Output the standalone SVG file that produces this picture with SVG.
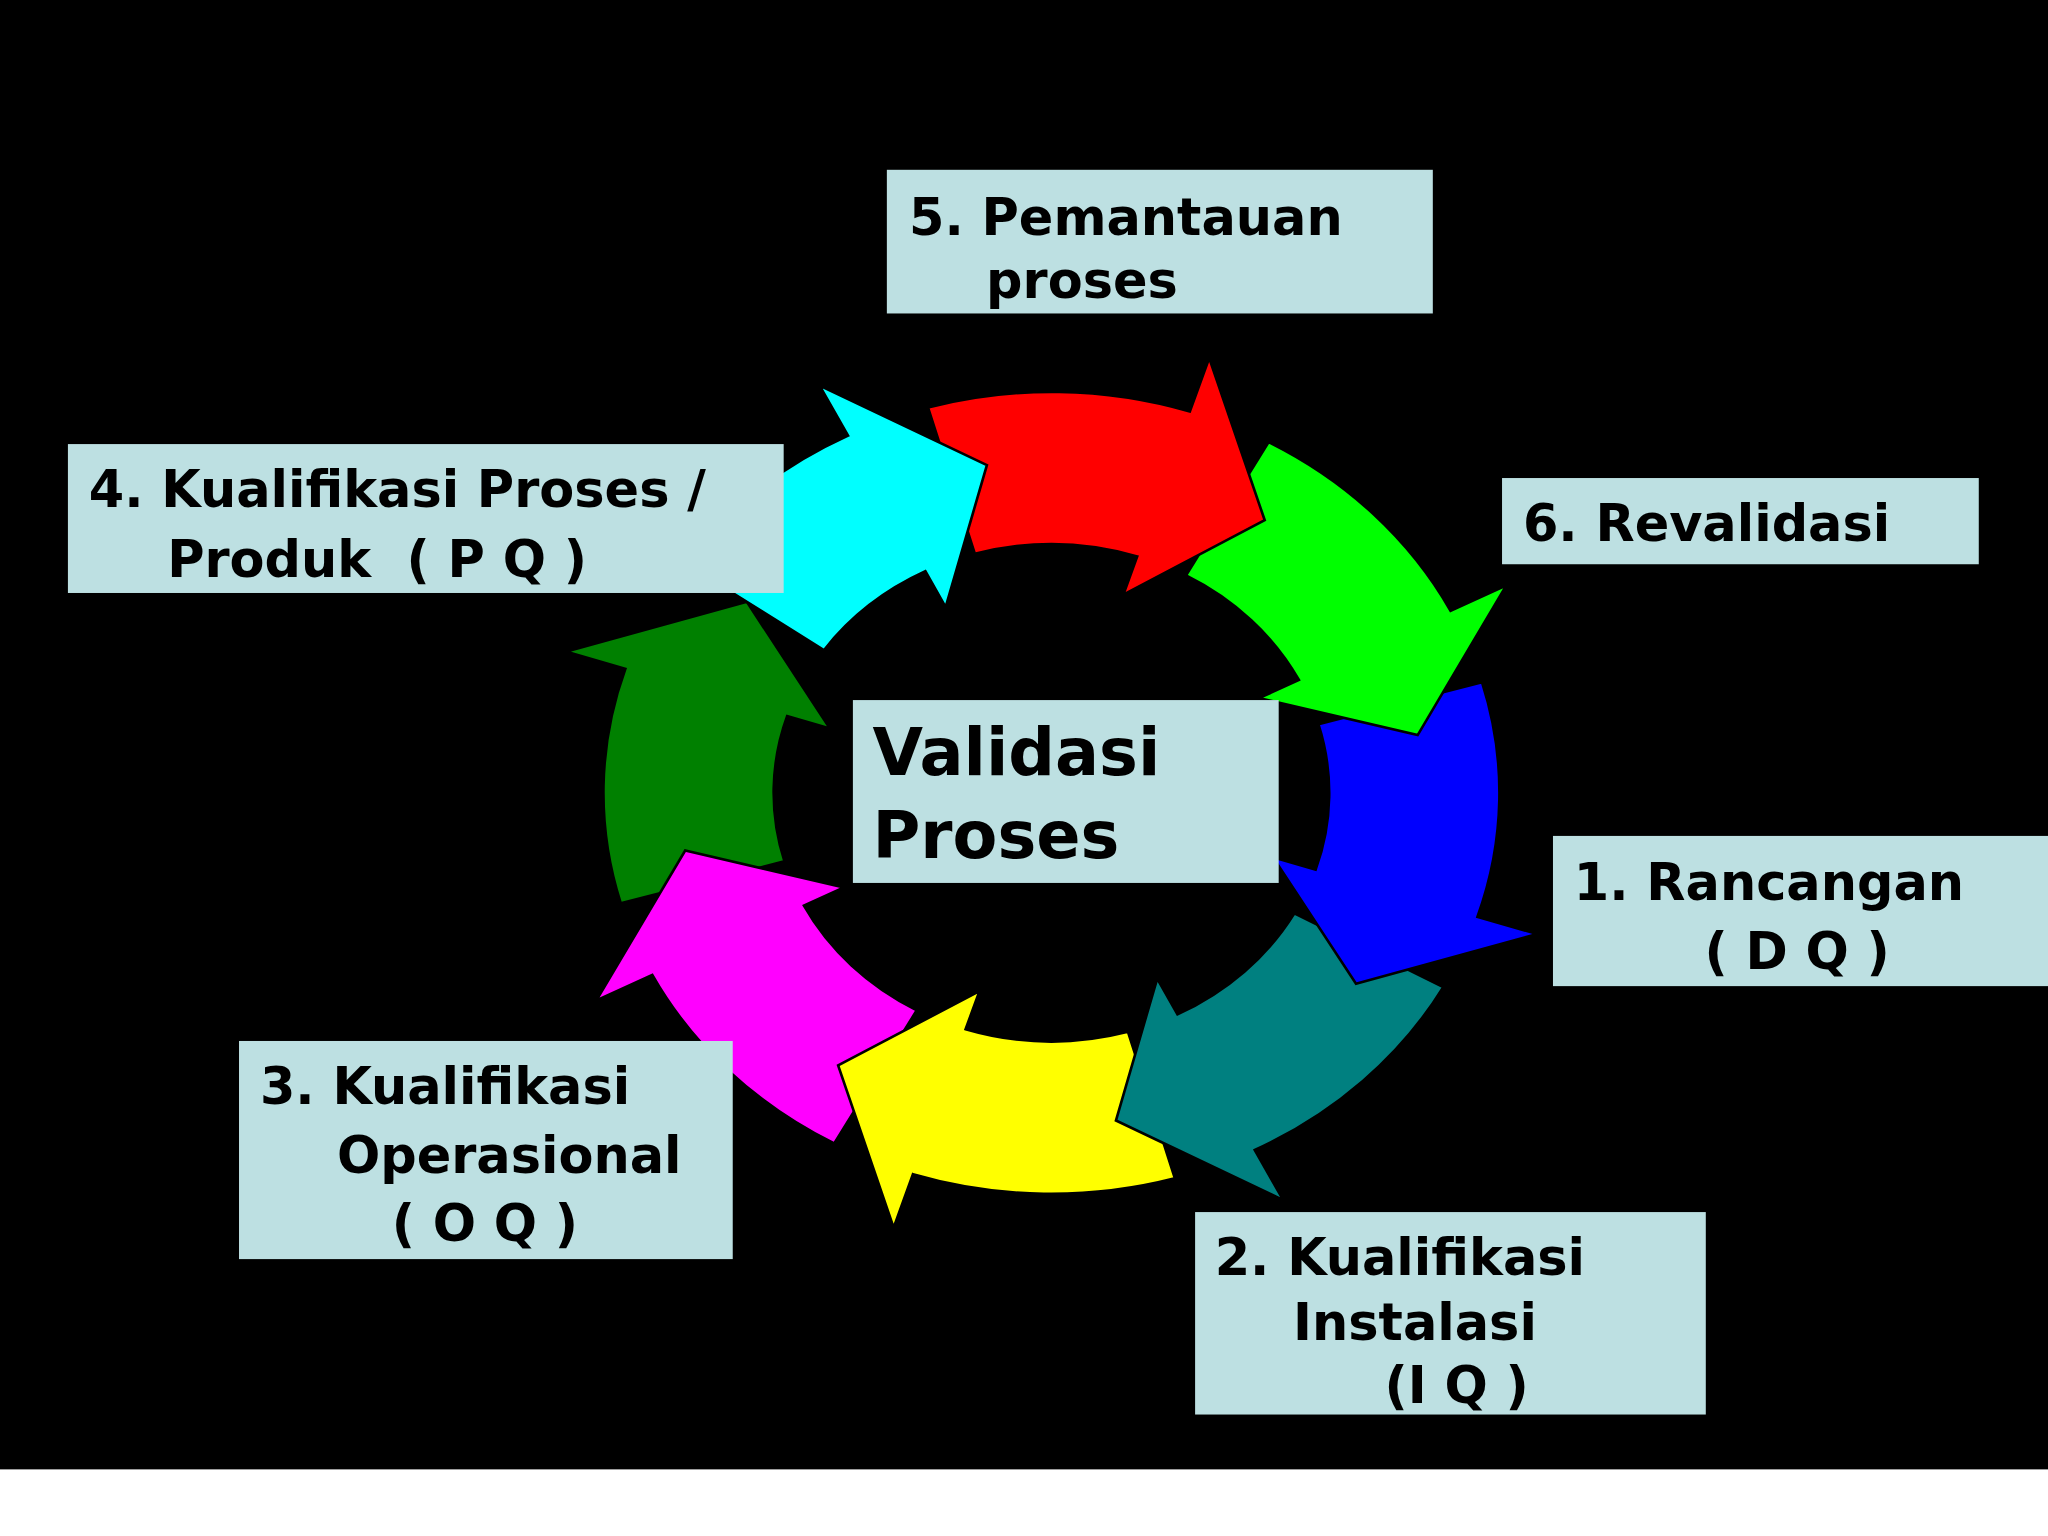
<svg xmlns="http://www.w3.org/2000/svg" width="2048" height="1536" viewBox="0 0 2048 1536">
<style>
.a{stroke:#000;stroke-width:2}
.box{fill:#bde0e2}
text{font-family:"DejaVu Sans","Liberation Sans",sans-serif;font-weight:bold;font-size:39px;fill:#000}
.big{font-size:50px}
</style>
<rect width="2048" height="1536" fill="#000"/>
<g transform="scale(1.30612)">
<rect x="0" y="1125" width="1568" height="60" fill="#fff"/>
<g id="connectors">
<path class="a" fill="#008000" d="M475.3,691.6 A343,307 0 0 1 478.8,512.1 L433.1,498.9 L571.8,460.8 L635.4,557.7 L602.7,548.2 A212.7,190.3 0 0 0 600.6,659.5 Z"/>
<path class="a" fill="#ff00ff" d="M638.7,875.5 A343,307 0 0 1 499.4,746.4 L456.6,765.9 L524.6,651.2 L646.1,679.5 L615.5,693.4 A212.7,190.3 0 0 0 701.9,773.5 Z"/>
<path class="a" fill="#ffff00" d="M899.5,902.1 A343,307 0 0 1 699.0,899.0 L684.2,939.9 L641.7,815.7 L749.9,758.8 L739.3,788.0 A212.7,190.3 0 0 0 863.6,790.0 Z"/>
<path class="a" fill="#008080" d="M1105.0,755.8 A343,307 0 0 1 960.7,880.5 L982.5,918.8 L854.4,857.9 L886.0,749.2 L901.5,776.6 A212.7,190.3 0 0 0 991.0,699.3 Z"/>
<path class="a" fill="#0000ff" d="M1134.7,522.4 A343,307 0 0 1 1131.2,701.9 L1176.9,715.1 L1038.2,753.2 L974.6,656.3 L1007.3,665.8 A212.7,190.3 0 0 0 1009.4,554.5 Z"/>
<path class="a" fill="#00ff00" d="M971.3,338.5 A343,307 0 0 1 1110.6,467.6 L1153.4,448.1 L1085.4,562.8 L963.9,534.5 L994.5,520.6 A212.7,190.3 0 0 0 908.1,440.5 Z"/>
<path class="a" fill="#ff0000" d="M710.5,311.9 A343,307 0 0 1 911.0,315.0 L925.8,274.1 L968.3,398.3 L860.1,455.2 L870.7,426.0 A212.7,190.3 0 0 0 746.4,424.0 Z"/>
<path class="a" fill="#00ffff" d="M524.0,430.9 A343,307 0 0 1 649.3,333.5 L627.5,295.2 L755.6,356.1 L724.0,464.8 L708.5,437.4 A212.7,190.3 0 0 0 630.8,497.8 Z"/>
</g>
<g id="n5"><rect class="box" x="679" y="130" width="418" height="110"/><text x="696" y="180">5. Pemantauan</text><text x="755" y="228">proses</text></g>
<g id="n6"><rect class="box" x="1150" y="366" width="365" height="66"/><text x="1166" y="414">6. Revalidasi</text></g>
<g id="n4"><rect class="box" x="52" y="340" width="548" height="114"/><text x="68" y="388">4. Kualifikasi Proses /</text><text x="128" y="442" xml:space="preserve">Produk  ( P Q )</text></g>
<g id="center"><rect class="box" x="653" y="536" width="326" height="140"/><text class="big" x="668" y="593">Validasi</text><text class="big" x="668" y="657">Proses</text></g>
<g id="n1"><rect class="box" x="1189" y="640" width="390" height="115"/><text x="1205" y="689">1. Rancangan</text><text x="1305" y="742">( D Q )</text></g>
<g id="n3"><rect class="box" x="183" y="797" width="378" height="167"/><text x="199" y="845">3. Kualifikasi</text><text x="258" y="898">Operasional</text><text x="300" y="950">( O Q )</text></g>
<g id="n2"><rect class="box" x="915" y="928" width="391" height="155"/><text x="930" y="976">2. Kualifikasi</text><text x="990" y="1026">Instalasi</text><text x="1060" y="1074">(I Q )</text></g>
</g>
</svg>
